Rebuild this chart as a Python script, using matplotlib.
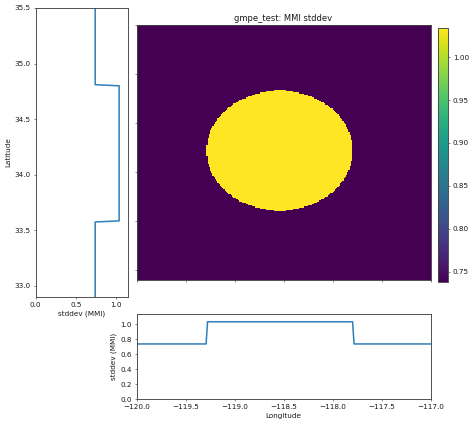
import numpy as np
import matplotlib
matplotlib.use("Agg")
import matplotlib.pyplot as plt

W, H = 474, 426
lon_edges_range = (-120.0, -117.0)
lat_range = (32.9, 35.5)
cell = 0.0125

# values
std_low = 0.738
std_high = 1.034
center_lon = -118.54
center_lat = 34.215
row_half_width = [0.745, 0.7448, 0.7444, 0.7436, 0.7425, 0.7411, 0.7393, 0.7373, 0.7349, 0.7322,
                  0.7292, 0.7258, 0.7221, 0.7181, 0.7137, 0.7089, 0.7038, 0.6983, 0.6925, 0.6862,
                  0.6795, 0.6725, 0.6650, 0.6570, 0.6487, 0.6398, 0.6304, 0.6206, 0.6101, 0.5992,
                  0.5876, 0.5753, 0.5624, 0.5488, 0.5344, 0.5191, 0.5029, 0.4857, 0.4674, 0.4477,
                  0.4267, 0.4039, 0.3792, 0.3522, 0.3221, 0.2881, 0.2485, 0.2002, 0.1340, 0.06]
lon_profile = [-120.0, -119.29, -119.275, -117.795, -117.78, -117.0]
lon_profile_std = [std_low, std_low, std_high, std_high, std_low, std_low]
lat_profile = [32.9, 33.575, 33.585, 34.80, 34.81, 35.5]
lat_profile_std = [std_low, std_low, std_high, std_high, std_low, std_low]
cbar_ticks = [0.75, 0.80, 0.85, 0.90, 0.95, 1.00]

lons = np.arange(lon_edges_range[0], lon_edges_range[1] + cell / 2, cell)
lats = np.arange(lat_range[0], lat_range[1] + cell / 2, cell)
grid = np.full((len(lats) - 1, len(lons) - 1), std_low)
lon_c = 0.5 * (lons[:-1] + lons[1:])
lat_c = 0.5 * (lats[:-1] + lats[1:])
for r, la in enumerate(lat_c):
    k = int(round(abs(la - center_lat) / cell))
    if k < len(row_half_width):
        grid[r, np.abs(lon_c - center_lon) <= row_half_width[k]] = std_high


def box(x0, y0, x1, y1):
    return [x0 / W, 1 - y1 / H, (x1 - x0) / W, (y1 - y0) / H]


plt.rcParams.update({"font.size": 5.2, "axes.linewidth": 0.65, "xtick.major.width": 0.45,
                     "ytick.major.width": 0.45, "xtick.major.size": 1.75, "ytick.major.size": 1.75,
                     "xtick.major.pad": 1.75, "ytick.major.pad": 1.75, "axes.edgecolor": "#444444",
                     "xtick.color": "#444444", "ytick.color": "#444444",
                     "text.color": "#1a1a1a", "xtick.labelcolor": "#1a1a1a", "ytick.labelcolor": "#1a1a1a",
                     "axes.labelcolor": "#1a1a1a", "axes.labelpad": 2.0})

fig = plt.figure(figsize=(W / 100, H / 100), dpi=100)

ax_main = fig.add_axes(box(136.5, 25, 430.5, 280))
mesh = ax_main.pcolormesh(lons, lats, grid, cmap="viridis", vmin=std_low, vmax=std_high)
ax_main.set_xlim(lon_edges_range)
ax_main.set_ylim(lat_range)
ax_main.set_xticks(np.arange(-120, -116.9, 0.5))
ax_main.set_yticks(np.arange(33, 35.6, 0.5))
ax_main.set_xticklabels([])
ax_main.set_yticklabels([])
ax_main.set_title("gmpe_test: MMI stddev", fontsize=6.0, pad=3.0)

cax = fig.add_axes(box(437.7, 28, 448, 282))
cb = fig.colorbar(mesh, cax=cax)
cb.set_ticks(cbar_ticks)
cb.set_ticklabels([f"{t:.2f}" for t in cbar_ticks])

ax_left = fig.add_axes(box(35.5, 8, 127.5, 297))
ax_left.plot(lat_profile_std, lat_profile, color="#2f7fb8", lw=1.1)
ax_left.set_xlim(0, std_high * 1.1)
ax_left.set_ylim(lat_range)
ax_left.set_xticks([0.0, 0.5, 1.0])
ax_left.set_yticks(np.arange(33, 35.6, 0.5))
ax_left.set_xlabel("stddev (MMI)")
ax_left.set_ylabel("Latitude")

ax_bottom = fig.add_axes(box(136.5, 314, 430.5, 399.3))
ax_bottom.plot(lon_profile, lon_profile_std, color="#2f7fb8", lw=1.1)
ax_bottom.set_xlim(lon_edges_range)
ax_bottom.set_ylim(0, std_high * 1.1)
ax_bottom.set_xticks(np.arange(-120, -116.9, 0.5))
ax_bottom.set_yticks([0.0, 0.2, 0.4, 0.6, 0.8, 1.0])
ax_bottom.set_xlabel("Longitude")
ax_bottom.set_ylabel("stddev (MMI)")

fig.savefig("out.png", dpi=100)
